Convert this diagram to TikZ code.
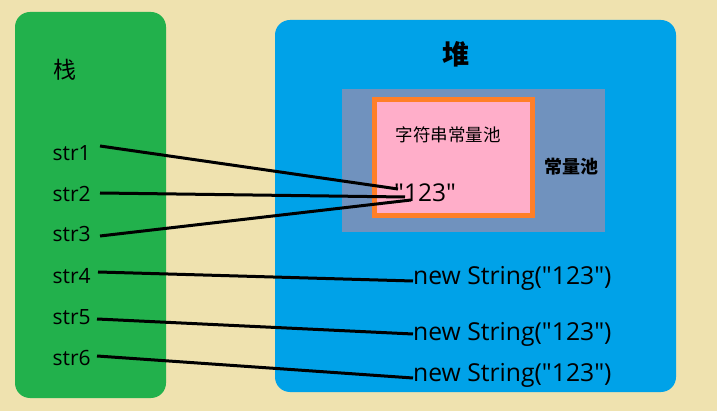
\documentclass[tikz,border=0pt]{standalone}
\usepackage{fontspec}
\setmainfont{Open Sans}[Ligatures=TeXOff]
\newfontfamily\cjk{Noto Sans CJK SC}
\definecolor{bg}{RGB}{239,226,175}
\definecolor{stackgreen}{RGB}{34,177,76}
\definecolor{heapblue}{RGB}{0,162,232}
\definecolor{poolgray}{RGB}{112,146,190}
\definecolor{poolorange}{RGB}{255,127,39}
\definecolor{poolpink}{RGB}{255,174,201}
\begin{document}
\begin{tikzpicture}[x=1pt,y=-1pt,
  lbl/.style={inner sep=0pt,anchor=base west,font=\fontsize{21}{23}\selectfont},
  newstr/.style={inner sep=0pt,anchor=base west,font=\fontsize{24.7}{26}\selectfont},
  ref/.style={line width=3pt,black}]
\useasboundingbox (0,0) rectangle (717,411);
\fill[bg] (0,0) rectangle (717,411);
% stack
\fill[stackgreen,rounded corners=15pt] (15,12) rectangle (166,398);
% heap
\fill[heapblue,rounded corners=15pt] (275,20) rectangle (676,392);
% constant pool
\fill[poolgray] (342,89) rectangle (605,232);
\filldraw[fill=poolpink,draw=poolorange,line width=5pt] (374,100) rectangle (532,216);
% titles
\node[font=\cjk\fontsize{23}{25}\selectfont] (stack) at (65,70) {栈};
\node[font=\cjk\bfseries\fontsize{27}{29}\selectfont] (heap) at (455.5,54) {堆};
\node[font=\cjk\fontsize{17.5}{19}\selectfont] (scp) at (448,135) {字符串常量池};
\node[font=\cjk\bfseries\fontsize{18}{20}\selectfont] (cp) at (571,167) {常量池};
% string literal
\node[inner sep=0pt,anchor=base west,font=\fontsize{24.5}{26}\selectfont] (lit) at (394,202) {"123"};
% stack variables
\node[lbl] (s1) at (52.5,161) {str1};
\node[lbl] (s2) at (52.5,201.5) {str2};
\node[lbl] (s3) at (52.5,241.5) {str3};
\node[lbl] (s4) at (52.5,283.5) {str4};
\node[lbl] (s5) at (52.5,325) {str5};
\node[lbl] (s6) at (52.5,365) {str6};
% heap objects
\node[newstr] (n4) at (413,284.5) {new String("123")};
\node[newstr] (n5) at (413,341) {new String("123")};
\node[newstr] (n6) at (413,381.5) {new String("123")};
% connector end points
\coordinate (a1) at (100,146);
\coordinate (a2) at (100,193);
\coordinate (a3) at (100,236);
\coordinate (q1) at (398,189);
\coordinate (q2) at (405,197);
\coordinate (q3) at (411,200);
\draw[ref] (a1) -- (q1);
\draw[ref] (a2) -- (q2);
\draw[ref] (a3) -- (q3);
\coordinate (a4) at (98,272);
\coordinate (a5) at (97,319);
\coordinate (a6) at (97,356);
\coordinate (b4) at (413,281);
\coordinate (b5) at (413,334);
\coordinate (b6) at (413,378);
\draw[ref] (a4) -- (b4);
\draw[ref] (a5) -- (b5);
\draw[ref] (a6) -- (b6);
\end{tikzpicture}
\end{document}
